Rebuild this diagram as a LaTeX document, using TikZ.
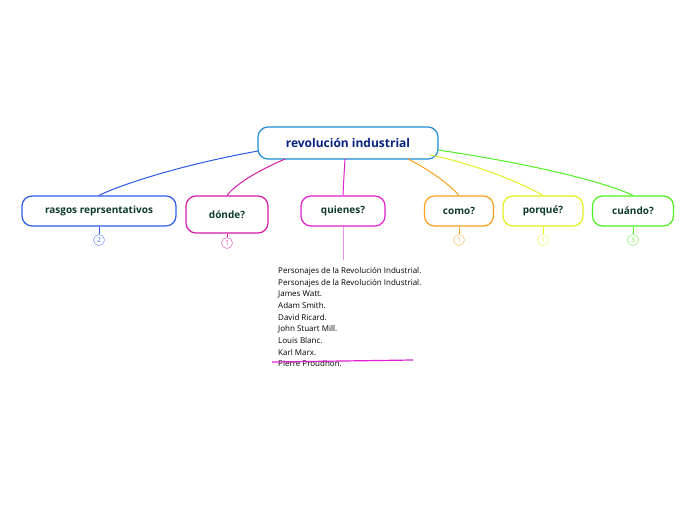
\documentclass[tikz,border=0pt]{standalone}
\usepackage{fontspec}
\setmainfont{Open Sans}
\definecolor{cblue}{HTML}{1F8AD6}
\definecolor{cb2}{HTML}{2C5BE8}
\definecolor{cmag}{HTML}{D41AA6}
\definecolor{cmag2}{HTML}{E020D0}
\definecolor{cor}{HTML}{F7A11A}
\definecolor{cyel}{HTML}{E0F020}
\definecolor{cgr}{HTML}{4EF020}
\definecolor{ctxt}{HTML}{0E3A2E}
\begin{document}
\begin{tikzpicture}[x=1pt,y=-1pt,
 box/.style={draw,line width=1.2pt,rounded corners=10pt,fill=white,text=ctxt,font=\bfseries\fontsize{10}{12}\selectfont,inner sep=0pt},
 badge/.style={draw,circle,line width=0.5pt,inner sep=0pt,minimum size=11pt,font=\fontsize{7}{8}\selectfont},
 lk/.style={line width=1pt}]
\useasboundingbox (0,0) rectangle (696,520);
\node[box,draw=cblue,minimum width=180pt,minimum height=32pt,text=ctxt!60!blue,font=\bfseries\fontsize{12}{14}\selectfont] (root) at (348,143) {revolución industrial};
\node[box,draw=cb2,minimum width=154pt,minimum height=30pt] (ras) at (99,211) {rasgos reprsentativos};
\node[box,draw=cmag,minimum width=82pt,minimum height=37pt] (don) at (227,214.5) {dónde?};
\node[box,draw=cmag2,minimum width=84pt,minimum height=30pt] (qui) at (343,211) {quienes?};
\node[box,draw=cor,minimum width=69pt,minimum height=30pt] (com) at (459,211) {como?};
\node[box,draw=cyel,minimum width=80pt,minimum height=30pt] (por) at (543,211) {porqué?};
\node[box,draw=cgr,minimum width=81pt,minimum height=30pt] (cua) at (633,211) {cuándo?};
\draw[lk,cb2] (258,151) .. controls (180,165) and (120,185) .. (ras.north);
\draw[lk,cmag] (285,159) .. controls (255,172) and (235,185) .. (don.north);
\draw[lk,cmag2] (345,159) .. controls (344,175) .. (qui.north);
\draw[lk,cor] (408,159) .. controls (430,170) and (450,185) .. (com.north);
\draw[lk,cyel] (430,155) .. controls (480,165) and (525,185) .. (por.north);
\draw[lk,cgr] (438,150) .. controls (520,162) and (600,180) .. (cua.north);
\foreach \n/\c/\y/\t in {ras/cb2/240/2,don/cmag/243/1,com/cor/240/1,por/cyel/240/1,cua/cgr/240/3}{
 \node[badge,draw=\c!70,text=\c!80] (b\n) at (\n.south |- 0,\y) {\t};
 \draw[\c,line width=0.8pt] (\n.south) -- (b\n.north);
}
\coordinate (qend) at (343,260);
\draw[cmag2!50,line width=0.8pt] (qui.south) -- (qend);
\node[anchor=north west,align=left,inner sep=0pt,font=\fontsize{8}{11.7}\selectfont] (txt) at (278,267) {Personajes de la Revolución Industrial.\\Personajes de la Revolución Industrial.\\James Watt.\\Adam Smith.\\David Ricard.\\John Stuart Mill.\\Louis Blanc.\\Karl Marx.\\Pierre Proudhon.};
\draw[cmag2,line width=1.2pt] (272,362) -- (413,360);
\end{tikzpicture}
\end{document}
